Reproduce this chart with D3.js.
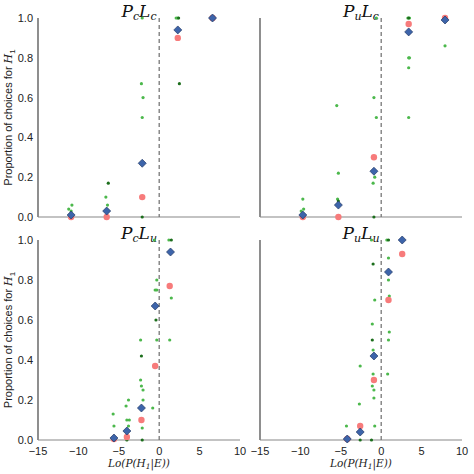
<!DOCTYPE html>
<html><head><meta charset="utf-8">
<script src="https://cdn.jsdelivr.net/npm/d3@7"></script>
<style>body{margin:0;background:#fff}</style></head>
<body><svg id="c" width="474" height="474"></svg>
<script>
const panelNames = [["P","c","L","c"],["P","u","L","c"],["P","c","L","u"],["P","u","L","u"]];
const xTicks = [-15,-10,-5,0,5,10];
const yTicks = [0,0.2,0.4,0.6,0.8,1.0];
const blue = [
 [[-10.9,0.01],[-6.5,0.03],[-2.1,0.27],[2.3,0.94],[6.6,1.0]],
 [[-9.7,0.01],[-5.3,0.06],[-0.9,0.23],[3.4,0.93],[7.9,0.99]],
 [[-5.6,0.01],[-4,0.045],[-2.2,0.16],[-0.5,0.67],[1.4,0.94]],
 [[-4.2,0.005],[-2.6,0.04],[-0.9,0.42],[0.9,0.84],[2.6,1.0]]];
const red = [
 [[-10.9,0],[-6.5,0],[-2.1,0.10],[2.3,0.90],[6.6,1.0]],
 [[-9.7,0],[-5.3,0],[-0.9,0.30],[3.4,0.97],[7.9,1.0]],
 [[-5.6,0.005],[-4,0.015],[-2.2,0.10],[-0.5,0.37],[1.3,0.77]],
 [[-4.2,0.005],[-2.6,0.07],[-0.9,0.30],[0.9,0.70],[2.6,0.93]]];
const greenLight = [
 [[-11.2,0.04],[-10.8,0.06],[-10.9,0.03],[-6.6,0.10],[-6.4,0.06],[-2.1,1.0],[-2.2,0.67],[-2.0,0.6],[-2.1,0.5],[2.3,1.0],[2.1,1.0]],
 [[-9.7,0.09],[-9.9,0.03],[-9.6,0.04],[-5.4,0.09],[-5.5,0.56],[-5.3,0.22],[-0.9,0.60],[-0.6,0.50],[-0.8,0.20],[-1.0,0.17],[-0.6,1.0],[3.3,1.0],[3.5,1.0],[3.4,0.8],[3.5,0.8],[3.4,0.75],[3.4,0.5],[7.9,0.86]],
 [[-5.7,0.13],[-5.6,0.07],[-4.1,0.17],[-3.8,0.2],[-4.0,0.10],[-3.7,0.10],[-3.8,0.07],[-2.3,0.5],[-2.3,0.30],[-2.2,0.27],[-2.0,0.25],[-2.0,0.2],[-2.1,0.06],[-0.8,0.16],[-0.3,0.8],[-0.5,0.75],[-0.3,0.75],[-0.3,0.5],[-0.6,1.0],[1.5,0.71],[1.3,0.5],[1.2,1.0]],
 [[-4.3,0.07],[-2.7,0.18],[-2.6,0.37],[-1.1,0.58],[-1.0,0.45],[-1.0,0.33],[-1.1,0.27],[-0.9,0.25],[-0.9,0.21],[-0.8,0.7],[-0.8,0.07],[0.9,0.5],[1.0,0.54],[0.8,0.33],[0.9,0.80],[0.9,0.91],[1.0,0.72],[0.7,1.0],[-1.2,1.0]]];
const greenDark = [
 [[-6.3,0.17],[-2.1,0],[-6.5,0],[2.5,0.67],[2.4,1.0]],
 [[-5.3,0.08],[-9.7,0],[-0.9,0],[3.4,1.0]],
 [[-2.2,0.42],[-0.4,0.6],[-2.1,0],[-4,0],[1.5,1.0]],
 [[-1.1,0.50],[-1.0,0.88],[-1.2,0],[-2.6,0],[2.6,1.0],[0.9,1.0]]];

const svg = d3.select("#c");
const boxes = [{x0:38,x1:240,y0:18,y1:217},{x0:260,x1:462,y0:18,y1:217},
               {x0:38,x1:240,y0:240,y1:440},{x0:260,x1:462,y0:240,y1:440}];
boxes.forEach((b,i)=>{
  const x = d3.scaleLinear().domain([-15,10]).range([b.x0,b.x1]);
  const y = d3.scaleLinear().domain([0,1]).range([b.y1,b.y0]);
  const g = svg.append("g");
  g.append("line").attr("x1",b.x0).attr("x2",b.x0).attr("y1",b.y0).attr("y2",b.y1).attr("stroke","#444").attr("stroke-width",1.2);
  g.append("line").attr("x1",b.x0).attr("x2",b.x1).attr("y1",b.y1).attr("y2",b.y1).attr("stroke","#888").attr("stroke-width",1.2);
  if(i%2===0){
    g.selectAll(".yt").data(yTicks).join("text").attr("x",b.x0-5).attr("y",d=>y(d)+4)
     .attr("text-anchor","end").attr("font-family","Liberation Sans, Arial").attr("font-size",11).attr("fill","#222")
     .text(d=>d.toFixed(1));
    g.append("text").attr("transform",`translate(12,${(b.y0+b.y1)/2}) rotate(-90)`).attr("text-anchor","middle")
     .attr("font-family","Liberation Sans, Arial").attr("font-size",11).attr("fill","#222")
     .html('Proportion of choices for <tspan font-family="DejaVu Serif" font-style="italic">H</tspan><tspan font-size="8" dy="3">1</tspan>');
  }
  if(i>=2){
    g.selectAll(".xt").data(xTicks).join("text").attr("x",d=>x(d)).attr("y",b.y1+15)
     .attr("text-anchor","middle").attr("font-family","Liberation Sans, Arial").attr("font-size",11).attr("fill","#222")
     .text(d=>d<0?"\u2212"+(-d):d);
    g.append("text").attr("x",(b.x0+b.x1)/2).attr("y",b.y1+27).attr("text-anchor","middle")
     .attr("font-family","DejaVu Serif").attr("font-style","italic").attr("font-size",10.5).attr("fill","#222")
     .html('Lo(P(H<tspan font-size="7.5" dy="2">1</tspan><tspan dy="-2">|E))</tspan>');
  }
  const n = panelNames[i];
  g.append("text").attr("x",(b.x0+b.x1)/2).attr("y",b.y0-1).attr("text-anchor","middle")
   .attr("font-family","DejaVu Serif").attr("font-style","italic").attr("font-size",17).attr("fill","#111")
   .html(`${n[0]}<tspan font-size="11" dy="3">${n[1]}</tspan><tspan dy="-3">${n[2]}</tspan><tspan font-size="11" dy="3">${n[3]}</tspan>`);
  g.append("line").attr("x1",x(0)).attr("x2",x(0)).attr("y1",b.y0).attr("y2",b.y1)
   .attr("stroke","#777").attr("stroke-width",1.3).attr("stroke-dasharray","4,3");
  g.selectAll(".gl").data(greenLight[i]).join("circle").attr("cx",d=>x(d[0])).attr("cy",d=>y(d[1])).attr("r",1.6).attr("fill","#4cb84c");
  g.selectAll(".gd").data(greenDark[i]).join("circle").attr("cx",d=>x(d[0])).attr("cy",d=>y(d[1])).attr("r",1.6).attr("fill","#1c6e1c");
  g.selectAll(".rd").data(red[i]).join("circle").attr("cx",d=>x(d[0])).attr("cy",d=>y(d[1])).attr("r",3.2).attr("fill","#f77b7b");
  g.selectAll(".bl").data(blue[i]).join("path").attr("transform",d=>`translate(${x(d[0])},${y(d[1])})`)
   .attr("d","M0,-4L4,0L0,4L-4,0Z").attr("fill","#3d64aa").attr("stroke","#223a66").attr("stroke-width",0.7);
});
</script></body></html>
